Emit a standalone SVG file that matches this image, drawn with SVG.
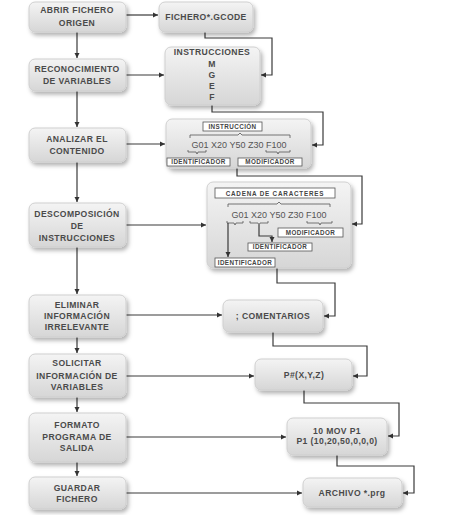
<svg xmlns="http://www.w3.org/2000/svg" width="474" height="515" viewBox="0 0 474 515">
<defs>
<linearGradient id="g" x1="0" y1="0" x2="0" y2="1">
<stop offset="0" stop-color="#f4f4f4"/>
<stop offset="1" stop-color="#d6d6d6"/>
</linearGradient>
<filter id="sh" x="-10%" y="-10%" width="125%" height="135%">
<feDropShadow dx="2" dy="3" stdDeviation="2" flood-color="#000" flood-opacity="0.3"/>
</filter>
<marker id="ar" markerWidth="6" markerHeight="6" refX="5" refY="3" orient="auto" markerUnits="userSpaceOnUse">
<path d="M0,0.5 L5,3 L0,5.5 Z" fill="#333"/>
</marker>
</defs>
<style>
.box{fill:url(#g);stroke:#cfcfcf;stroke-width:1;filter:url(#sh)}
.t{font-family:"Liberation Sans",Arial,sans-serif;font-weight:bold;font-size:8.6px;fill:#4a4a4a;text-anchor:middle;letter-spacing:0.4px}
.c{fill:none;stroke:#3a3a3a;stroke-width:1.2}
.lb{fill:#fff;stroke:#555;stroke-width:0.8}
.s{font-family:"Liberation Sans",Arial,sans-serif;font-weight:bold;font-size:6.3px;fill:#444;text-anchor:middle;letter-spacing:0.4px}
.code{font-family:"Liberation Sans",Arial,sans-serif;font-size:9px;fill:#555;text-anchor:middle}
.br{fill:none;stroke:#555;stroke-width:0.8}
</style>

<g id="connectors">
<path class="c" d="M77,32 V58" marker-end="url(#ar)"/>
<path class="c" d="M77,91 V127" marker-end="url(#ar)"/>
<path class="c" d="M77,162 V202" marker-end="url(#ar)"/>
<path class="c" d="M77,247 V294" marker-end="url(#ar)"/>
<path class="c" d="M77,337 V353" marker-end="url(#ar)"/>
<path class="c" d="M77,397 V412" marker-end="url(#ar)"/>
<path class="c" d="M77,462 V476" marker-end="url(#ar)"/>
<path class="c" d="M126,15 H158" marker-end="url(#ar)"/>
<path class="c" d="M126,75 H164" marker-end="url(#ar)"/>
<path class="c" d="M126,144 H165" marker-end="url(#ar)"/>
<path class="c" d="M126,225 H206" marker-end="url(#ar)"/>
<path class="c" d="M126,315 H222" marker-end="url(#ar)"/>
<path class="c" d="M126,376 H254" marker-end="url(#ar)"/>
<path class="c" d="M126,437 H286" marker-end="url(#ar)"/>
<path class="c" d="M126,493 H302" marker-end="url(#ar)"/>
<path class="c" d="M205,32 V38 H272 V75 H261" marker-end="url(#ar)"/>
<path class="c" d="M212,105 V112 H323 V145 H312" marker-end="url(#ar)"/>
<path class="c" d="M237,166 V176 H362 V224 H352" marker-end="url(#ar)"/>
<path class="c" d="M277,267 V283 H335 V316 H324" marker-end="url(#ar)"/>
<path class="c" d="M273,332 V346 H367 V376 H353" marker-end="url(#ar)"/>
<path class="c" d="M304,390 V403 H399 V436 H388" marker-end="url(#ar)"/>
<path class="c" d="M337,455 V466 H414 V493 H403" marker-end="url(#ar)"/>
</g>

<g id="abrir"><rect class="box" x="29" y="2" width="97" height="30" rx="6"/><text class="t" x="77" y="13">ABRIR FICHERO</text><text class="t" x="77" y="26">ORIGEN</text></g>
<g id="reconocimiento"><rect class="box" x="29" y="59" width="97" height="32" rx="6"/><text class="t" x="77" y="72">RECONOCIMIENTO</text><text class="t" x="77" y="84">DE VARIABLES</text></g>
<g id="analizar"><rect class="box" x="29" y="128" width="97" height="34" rx="6"/><text class="t" x="77" y="142">ANALIZAR EL</text><text class="t" x="77" y="154">CONTENIDO</text></g>
<g id="descomposicion"><rect class="box" x="29" y="203" width="97" height="44" rx="6"/><text class="t" x="77" y="217">DESCOMPOSICIÓN</text><text class="t" x="77" y="229">DE</text><text class="t" x="77" y="241">INSTRUCCIONES</text></g>
<g id="eliminar"><rect class="box" x="29" y="295" width="97" height="42" rx="6"/><text class="t" x="77" y="308">ELIMINAR</text><text class="t" x="77" y="319">INFORMACIÓN</text><text class="t" x="77" y="330">IRRELEVANTE</text></g>
<g id="solicitar"><rect class="box" x="29" y="354" width="97" height="43" rx="6"/><text class="t" x="77" y="366">SOLICITAR</text><text class="t" x="77" y="379">INFORMACIÓN DE</text><text class="t" x="77" y="390">VARIABLES</text></g>
<g id="formato"><rect class="box" x="29" y="413" width="97" height="49" rx="6"/><text class="t" x="77" y="428">FORMATO</text><text class="t" x="77" y="440">PROGRAMA DE</text><text class="t" x="77" y="451">SALIDA</text></g>
<g id="guardar"><rect class="box" x="29" y="477" width="97" height="32" rx="6"/><text class="t" x="77" y="491">GUARDAR</text><text class="t" x="77" y="502">FICHERO</text></g>

<g id="fichero"><rect class="box" x="159" y="2" width="94" height="30" rx="6"/><text class="t" x="206" y="20">FICHERO*.GCODE</text></g>
<g id="instrucciones"><rect class="box" x="165" y="47" width="95" height="58" rx="6"/><text class="t" x="212" y="55">INSTRUCCIONES</text><text class="t" x="212" y="67">M</text><text class="t" x="212" y="78">G</text><text class="t" x="212" y="89">E</text><text class="t" x="212" y="100">F</text></g>

<g id="instruccion">
<rect class="box" x="166" y="119" width="145" height="49" rx="6"/>
<rect class="lb" x="203" y="122" width="59" height="9"/>
<text class="s" x="232.5" y="129">INSTRUCCIÓN</text>
<path class="br" d="M190,138 V135 H238 L240,133 L242,135 H290 V138"/>
<text class="code" x="239" y="148">G01 X20 Y50 Z30 F100</text>
<path class="br" d="M188,150 V152 H196 L197,154 L198,152 H206 V150"/>
<path class="br" d="M266,150 V152 H277 L278,154 L279,152 H290 V150"/>
<rect class="lb" x="167" y="158" width="63" height="8"/>
<text class="s" x="198.5" y="164.3">IDENTIFICADOR</text>
<rect class="lb" x="238" y="158" width="64" height="8"/>
<text class="s" x="270" y="164.3">MODIFICADOR</text>
</g>

<g id="cadena">
<rect class="box" x="207" y="182" width="144" height="86" rx="6"/>
<rect class="lb" x="215" y="188" width="120" height="10"/>
<text class="s" x="275" y="195.5" style="letter-spacing:0.8px">CADENA DE CARACTERES</text>
<path class="br" d="M228,207 V204 H277 L279,202 L281,204 H330 V207"/>
<text class="code" x="279" y="218">G01 X20 Y50 Z30 F100</text>
<path class="br" d="M227,221 V223 H234 L235,225 L236,223 H243 V221"/>
<path class="br" d="M250,221 V223 H258 L259,225 L260,223 H268 V221"/>
<path class="br" d="M307,221 V223 H319 L320,225 L321,223 H332 V221"/>
<path class="c" d="M228,223 V257" stroke-width="1" marker-end="url(#ar)"/>
<path class="c" d="M259,225 V236 H272 V242" stroke-width="1" marker-end="url(#ar)"/>
<rect class="lb" x="278" y="228" width="65" height="9"/>
<text class="s" x="310.5" y="234.8">MODIFICADOR</text>
<rect class="lb" x="248" y="243" width="64" height="8"/>
<text class="s" x="280" y="249.3">IDENTIFICADOR</text>
<rect class="lb" x="215" y="258" width="60" height="9"/>
<text class="s" x="245" y="264.8">IDENTIFICADOR</text>
</g>

<g id="comentarios"><rect class="box" x="223" y="300" width="100" height="32" rx="6"/><text class="t" x="273" y="319">; COMENTARIOS</text></g>
<g id="pxyz"><rect class="box" x="255" y="359" width="97" height="31" rx="6"/><text class="t" x="304" y="378">P#(X,Y,Z)</text></g>
<g id="mov"><rect class="box" x="287" y="418" width="100" height="37" rx="6"/><text class="t" x="337" y="434">10 MOV P1</text><text class="t" x="337" y="444">P1 (10,20,50,0,0,0)</text></g>
<g id="archivo"><rect class="box" x="303" y="478" width="99" height="29" rx="6"/><text class="t" x="352" y="496">ARCHIVO *.prg</text></g>
</svg>
